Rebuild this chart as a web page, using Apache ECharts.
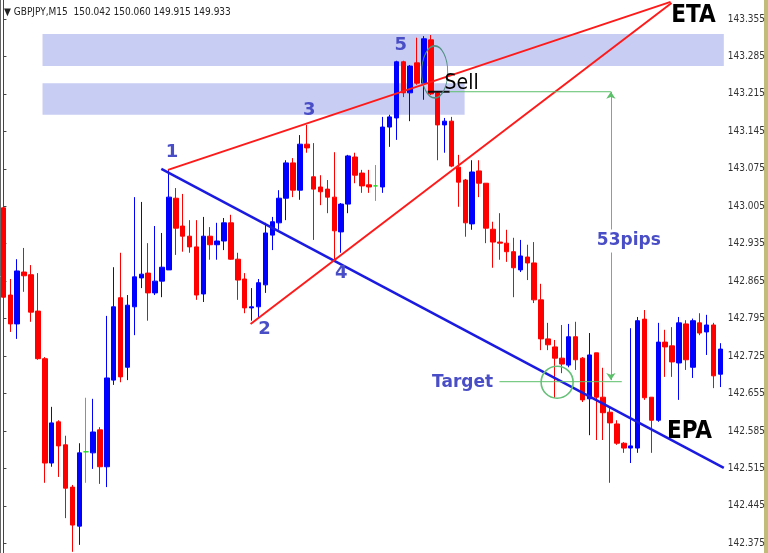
<!DOCTYPE html>
<html lang="en">
<head>
  <meta charset="UTF-8">
  <title>GBPJPY M15</title>
  <style>
    html, body { margin: 0; padding: 0; background: #fff; }
    #chart { width: 768px; height: 553px; }
  </style>
  <script src="https://cdn.jsdelivr.net/npm/echarts@6/dist/echarts.min.js"></script>
</head>
<body>
<div id="chart"></div>
<script>
  var header = '\u25BC GBPJPY,M15  150.042 150.060 149.915 149.933';

  // one row per M15 bar: [open, close, low, high]
  var candles = [
    [143.002, 142.835, 142.830, 143.007],
    [142.839, 142.785, 142.770, 142.869],
    [142.785, 142.884, 142.757, 142.906],
    [142.882, 142.875, 142.845, 142.927],
    [142.877, 142.807, 142.789, 142.895],
    [142.809, 142.720, 142.718, 142.880],
    [142.720, 142.525, 142.488, 142.723],
    [142.525, 142.600, 142.518, 142.630],
    [142.602, 142.557, 142.499, 142.605],
    [142.559, 142.478, 142.422, 142.576],
    [142.480, 142.409, 142.359, 142.484],
    [142.407, 142.544, 142.372, 142.562],
    [142.546, 142.546, 142.488, 142.647],
    [142.544, 142.583, 142.514, 142.645],
    [142.587, 142.518, 142.486, 142.592],
    [142.518, 142.684, 142.480, 142.800],
    [142.680, 142.817, 142.671, 142.891],
    [142.834, 142.686, 142.676, 142.918],
    [142.704, 142.820, 142.680, 142.839],
    [142.817, 142.873, 142.764, 143.022],
    [142.871, 142.878, 142.852, 143.013],
    [142.880, 142.843, 142.791, 142.936],
    [142.843, 142.865, 142.839, 142.968],
    [142.865, 142.891, 142.835, 142.955],
    [142.886, 143.022, 142.886, 143.073],
    [143.020, 142.964, 142.914, 143.039],
    [142.968, 142.949, 142.920, 143.028],
    [142.949, 142.929, 142.918, 142.979],
    [142.929, 142.839, 142.830, 142.979],
    [142.841, 142.949, 142.826, 142.985],
    [142.949, 142.933, 142.905, 142.966],
    [142.933, 142.940, 142.905, 142.974],
    [142.940, 142.974, 142.923, 142.983],
    [142.974, 142.906, 142.905, 142.989],
    [142.906, 142.867, 142.830, 142.918],
    [142.869, 142.815, 142.805, 142.880],
    [142.815, 142.817, 142.791, 142.852],
    [142.817, 142.862, 142.798, 142.869],
    [142.858, 142.955, 142.843, 142.974],
    [142.951, 142.976, 142.923, 142.985],
    [142.974, 143.020, 142.961, 143.035],
    [143.020, 143.086, 142.979, 143.091],
    [143.086, 143.035, 143.022, 143.095],
    [143.035, 143.121, 143.017, 143.138],
    [143.121, 143.114, 143.105, 143.157],
    [143.060, 143.037, 142.942, 143.123],
    [143.041, 143.032, 143.007, 143.063],
    [143.037, 143.022, 142.992, 143.054],
    [143.022, 142.959, 142.901, 143.106],
    [142.957, 143.009, 142.918, 143.011],
    [143.009, 143.099, 142.992, 143.101],
    [143.097, 143.063, 143.048, 143.105],
    [143.067, 143.043, 143.030, 143.073],
    [143.045, 143.041, 143.030, 143.073],
    [143.043, 143.043, 143.015, 143.082],
    [143.041, 143.153, 143.030, 143.172],
    [143.153, 143.172, 143.116, 143.176],
    [143.170, 143.275, 143.129, 143.277],
    [143.275, 143.217, 143.209, 143.277],
    [143.217, 143.267, 143.164, 143.269],
    [143.273, 143.235, 143.232, 143.320],
    [143.235, 143.318, 143.204, 143.323],
    [143.316, 143.215, 143.213, 143.325],
    [143.217, 143.157, 143.091, 143.219],
    [143.157, 143.164, 143.105, 143.170],
    [143.164, 143.080, 143.078, 143.172],
    [143.078, 143.050, 143.004, 143.101],
    [143.054, 142.974, 142.948, 143.056],
    [142.972, 143.069, 142.961, 143.091],
    [143.071, 143.048, 143.022, 143.091],
    [143.048, 142.964, 142.936, 143.048],
    [142.962, 142.938, 142.890, 142.976],
    [142.938, 142.936, 142.905, 142.992],
    [142.936, 142.920, 142.901, 142.961],
    [142.920, 142.890, 142.835, 142.946],
    [142.886, 142.912, 142.882, 142.942],
    [142.910, 142.899, 142.867, 142.933],
    [142.899, 142.830, 142.824, 142.938],
    [142.830, 142.757, 142.736, 142.860],
    [142.757, 142.746, 142.736, 142.787],
    [142.742, 142.721, 142.647, 142.755],
    [142.721, 142.710, 142.693, 142.783],
    [142.708, 142.761, 142.704, 142.785],
    [142.761, 142.718, 142.699, 142.789],
    [142.721, 142.643, 142.639, 142.723],
    [142.645, 142.727, 142.577, 142.768],
    [142.731, 142.648, 142.568, 142.731],
    [142.648, 142.619, 142.568, 142.703],
    [142.620, 142.600, 142.488, 142.630],
    [142.598, 142.562, 142.559, 142.605],
    [142.562, 142.553, 142.544, 142.564],
    [142.553, 142.557, 142.525, 142.777],
    [142.553, 142.791, 142.544, 142.798],
    [142.794, 142.647, 142.643, 142.811],
    [142.648, 142.605, 142.544, 142.648],
    [142.605, 142.751, 142.602, 142.787],
    [142.751, 142.742, 142.686, 142.774],
    [142.744, 142.714, 142.686, 142.779],
    [142.712, 142.787, 142.643, 142.798],
    [142.785, 142.718, 142.699, 142.792],
    [142.704, 142.791, 142.684, 142.795],
    [142.787, 142.768, 142.764, 142.805],
    [142.770, 142.783, 142.727, 142.802],
    [142.783, 142.688, 142.665, 142.787],
    [142.691, 142.738, 142.667, 142.749]
  ];

  var tickLabels = ['143.355', '143.285', '143.215', '143.145', '143.075', '143.005', '142.935',
    '142.865', '142.795', '142.725', '142.655', '142.585', '142.515', '142.445', '142.375'];

  // drawn objects, in [bar index, price]
  var epaLine = [[22.9, 143.075], [104.5, 142.516]];
  var etaUpper = [[23.87, 143.073], [96.78, 143.387]];
  var etaLower = [[35.85, 142.785], [96.92, 143.385]];
  var zones = [[5.67, 143.327, 104.5, 143.267], [5.67, 143.235, 66.9, 143.176]];
  var sellMark = [[61.55, 143.219], [64.73, 143.219]];
  var sellLevel = [[64.73, 143.219], [88.12, 143.219]];
  var pipsSpan = [[88.12, 143.219], [88.12, 142.680]];
  var targetLevel = [[71.95, 142.677], [89.7, 142.677]];
  var targetRing = [80.32, 142.676];
  var sellRing = [62.56, 143.256];

  var points = [['1', 24.44, 143.106], ['2', 37.87, 142.774], ['3', 44.37, 143.185],
    ['4', 48.99, 142.880], ['5', 57.65, 143.305]];
  var bigNotes = [['ETA', 100.1, 143.361], ['EPA', 99.52, 142.583]];
  var sellNote = ['Sell', 66.46, 143.235];
  var targetNote = ['Target', 66.6, 142.676];
  var pipsNote = ['53pips', 90.72, 142.940];

  var bars = candles.map(function (c, i) { return String(i); });
  var narrow = "'Liberation Sans Narrow', 'DejaVu Sans Condensed', 'Liberation Sans', sans-serif";
  var purple = '#4a4ec6';

  function segment(pts, color, width) {
    return {
      type: 'line', xAxisIndex: 1, data: pts, symbol: 'none', silent: true, z: 4,
      lineStyle: { color: color, width: width }
    };
  }

  function notes(list, style) {
    return {
      type: 'scatter', xAxisIndex: 1, symbolSize: 0, silent: true, z: 6,
      itemStyle: { opacity: 1 },
      data: list.map(function (n) { return { name: n[0], value: [n[1], n[2]] }; }),
      label: Object.assign({
        show: true, position: 'inside', formatter: '{b}', align: 'center', verticalAlign: 'middle'
      }, style)
    };
  }

  var chart = echarts.init(document.getElementById('chart'));

  var option = {
    animation: false,
    title: {
      text: header, left: 4, top: 7, padding: 0,
      textStyle: { fontSize: 10, fontWeight: 'normal', color: '#222', fontFamily: narrow }
    },
    grid: { left: -2, right: 41, top: 0, bottom: 0 },
    xAxis: [
      { type: 'category', data: bars, show: false, boundaryGap: true },
      { type: 'value', min: -0.5, max: 104.5, show: false }
    ],
    yAxis: {
      type: 'value', position: 'right', min: 142.3568, max: 143.3905,
      axisLine: { show: true, lineStyle: { color: '#444', width: 1 } },
      axisTick: { show: true, length: 3, customValues: tickLabels.map(Number), lineStyle: { color: '#444' } },
      axisLabel: {
        customValues: tickLabels.map(Number),
        formatter: function (v) { return v.toFixed(3); },
        fontSize: 10, color: '#333', margin: 4, fontFamily: narrow
      },
      splitLine: { show: false }
    },
    series: [
      {
        type: 'candlestick', data: candles, barWidth: 5, z: 2,
        itemStyle: {
          color: '#0000ff', color0: '#ff0000',
          borderColor: '#0000ff', borderColor0: '#ff0000',
          borderColorDoji: '#22dd22', borderWidth: 1
        }
      },
      Object.assign(segment(epaLine, '#1a1ae0', 2.5), {
        markArea: {
          silent: true,
          itemStyle: { color: 'rgb(200,205,243)' },
          data: zones.map(function (z) { return [{ coord: [z[0], z[1]] }, { coord: [z[2], z[3]] }]; })
        }
      }),
      segment(etaUpper, '#ff1a1a', 2),
      segment(etaLower, '#ff1a1a', 2),
      segment(sellMark, '#111', 2),
      segment(sellLevel, '#5cbf6a', 1),
      Object.assign(segment(targetLevel, '#5cbf6a', 1), {
        markLine: {
          silent: true, symbol: ['arrow', 'arrow'], symbolSize: 7,
          lineStyle: { color: '#5cbf6a', width: 1, type: 'solid' },
          label: { show: false },
          data: [[{ coord: pipsSpan[0] }, { coord: pipsSpan[1] }]]
        }
      }),
      {
        type: 'scatter', xAxisIndex: 1, silent: true, z: 5, symbol: 'circle',
        data: [
          { value: targetRing, symbolSize: [32, 32], itemStyle: { borderColor: '#66c078', borderWidth: 1.6 } },
          { value: sellRing, symbolSize: [26, 52], itemStyle: { borderColor: '#4f8f80', borderWidth: 1.2 } }
        ],
        itemStyle: { color: 'rgba(0,0,0,0)', opacity: 1 }
      },
      notes(points, { color: purple, fontSize: 18, fontWeight: 'bold', fontFamily: 'DejaVu Sans' }),
      notes(bigNotes, { color: '#000', fontSize: 24, fontWeight: 'bold', fontFamily: narrow }),
      notes([sellNote], { color: '#000', fontSize: 21, fontFamily: narrow }),
      notes([targetNote], { color: purple, fontSize: 17, fontWeight: 'bold', fontFamily: 'DejaVu Sans' }),
      notes([pipsNote], { color: purple, fontSize: 17, fontWeight: 'bold', fontFamily: 'DejaVu Sans', backgroundColor: '#fff', padding: [3, 0] })
    ],
    graphic: [
      { type: 'rect', right: 0, top: 0, shape: { width: 4, height: 553 }, style: { fill: '#c2bc7a' }, silent: true },
      { type: 'line', shape: { x1: 0.5, y1: 0, x2: 0.5, y2: 553 }, style: { stroke: '#666', lineWidth: 1 }, silent: true }
    ]
  };

  chart.setOption(option);
</script>
</body>
</html>
